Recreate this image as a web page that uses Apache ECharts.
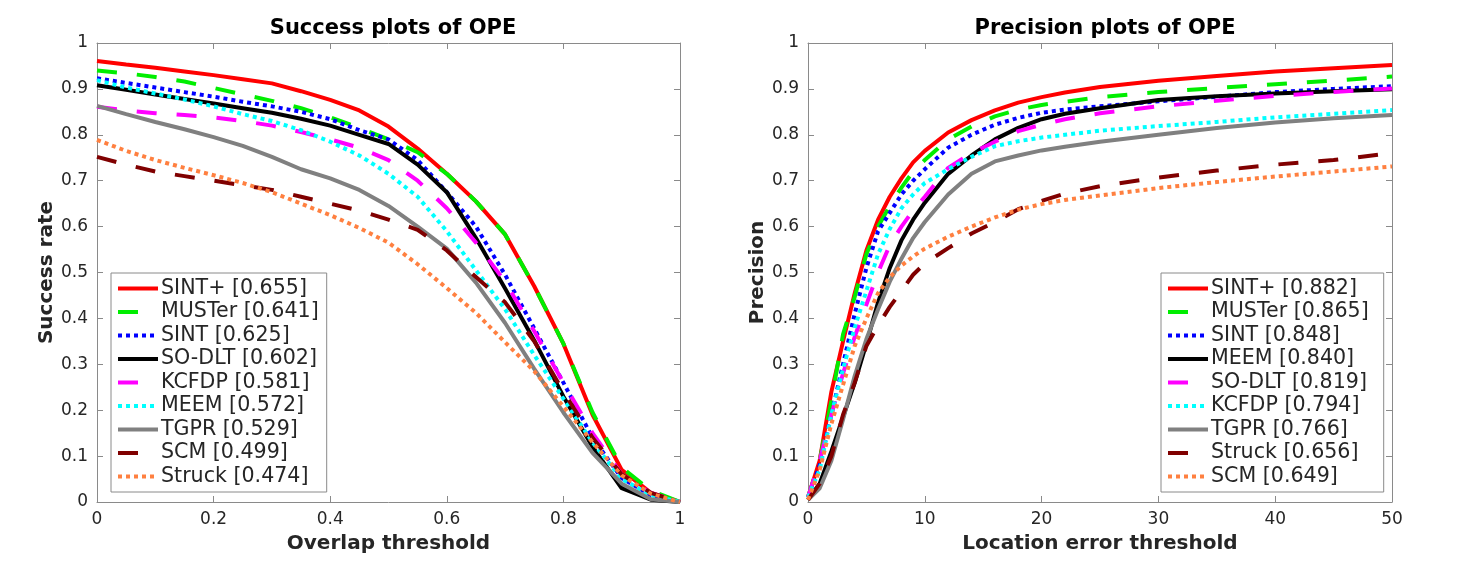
<!DOCTYPE html>
<html>
<head>
<meta charset="utf-8">
<script src="https://cdn.jsdelivr.net/npm/echarts@6/dist/echarts.min.js"></script>
<style>
  html, body { margin: 0; padding: 0; background: #fff; }
  #main { width: 1464px; height: 567px; }
</style>
</head>
<body>
<div id="main"></div>
<script>
// success plot: overlap thresholds
var overlapX = [0, 0.05, 0.1, 0.15, 0.2, 0.25, 0.3, 0.35, 0.4, 0.45, 0.5,
                0.55, 0.6, 0.65, 0.7, 0.75, 0.8, 0.85, 0.9, 0.95, 1];
var successNames = ['SINT+', 'MUSTer', 'SINT', 'SO-DLT', 'KCFDP', 'MEEM', 'TGPR', 'SCM', 'Struck'];
var successScores = ['0.655', '0.641', '0.625', '0.602', '0.581', '0.572', '0.529', '0.499', '0.474'];
var sintPlusS = [0.961, 0.953, 0.946, 0.938, 0.930, 0.921, 0.912, 0.895, 0.876, 0.853, 0.818, 0.770, 0.715, 0.655, 0.583, 0.470, 0.345, 0.190, 0.070, 0.020, 0];
var musterS   = [0.940, 0.934, 0.926, 0.916, 0.902, 0.888, 0.874, 0.858, 0.838, 0.815, 0.790, 0.762, 0.715, 0.655, 0.583, 0.470, 0.345, 0.195, 0.075, 0.025, 0];
var sintS     = [0.923, 0.913, 0.903, 0.893, 0.883, 0.872, 0.862, 0.850, 0.834, 0.810, 0.790, 0.745, 0.675, 0.600, 0.495, 0.378, 0.260, 0.140, 0.052, 0.015, 0];
var sodltS    = [0.908, 0.898, 0.888, 0.878, 0.868, 0.858, 0.848, 0.835, 0.820, 0.800, 0.780, 0.735, 0.675, 0.575, 0.465, 0.352, 0.230, 0.120, 0.030, 0.005, 0];
var kcfdpS    = [0.861, 0.853, 0.847, 0.843, 0.838, 0.830, 0.820, 0.806, 0.790, 0.772, 0.745, 0.700, 0.640, 0.565, 0.480, 0.372, 0.260, 0.150, 0.060, 0.020, 0];
var meemS     = [0.919, 0.903, 0.890, 0.877, 0.862, 0.845, 0.830, 0.810, 0.785, 0.755, 0.715, 0.665, 0.590, 0.505, 0.420, 0.320, 0.225, 0.130, 0.050, 0.015, 0];
var tgprS     = [0.863, 0.845, 0.828, 0.812, 0.795, 0.776, 0.752, 0.725, 0.705, 0.680, 0.645, 0.600, 0.552, 0.478, 0.390, 0.290, 0.195, 0.107, 0.040, 0.006, 0];
var scmS      = [0.752, 0.735, 0.720, 0.710, 0.700, 0.690, 0.680, 0.665, 0.650, 0.635, 0.615, 0.593, 0.548, 0.490, 0.435, 0.350, 0.240, 0.140, 0.060, 0.020, 0];
var struckS   = [0.789, 0.765, 0.745, 0.728, 0.712, 0.695, 0.675, 0.650, 0.625, 0.597, 0.565, 0.518, 0.466, 0.412, 0.348, 0.285, 0.208, 0.130, 0.058, 0.018, 0];

// precision plot: location error thresholds
var errorX = [0, 1, 2, 3, 4, 5, 6, 7, 8, 9, 10, 12, 14, 16, 18, 20, 22, 25, 30, 35, 40, 45, 50];
var precisionNames = ['SINT+', 'MUSTer', 'SINT', 'MEEM', 'SO-DLT', 'KCFDP', 'TGPR', 'Struck', 'SCM'];
var precisionScores = ['0.882', '0.865', '0.848', '0.840', '0.819', '0.794', '0.766', '0.656', '0.649'];
var sintPlusP = [0.01, 0.09, 0.24, 0.35, 0.455, 0.548, 0.615, 0.665, 0.705, 0.74, 0.765, 0.805, 0.832, 0.853, 0.870, 0.882, 0.892, 0.904, 0.918, 0.928, 0.938, 0.945, 0.952];
var musterP   = [0.01, 0.09, 0.22, 0.365, 0.447, 0.54, 0.60, 0.645, 0.685, 0.72, 0.745, 0.790, 0.818, 0.840, 0.855, 0.865, 0.872, 0.882, 0.893, 0.902, 0.910, 0.918, 0.927];
var sintP     = [0.01, 0.08, 0.19, 0.30, 0.41, 0.51, 0.59, 0.63, 0.67, 0.70, 0.725, 0.772, 0.800, 0.822, 0.837, 0.848, 0.855, 0.862, 0.873, 0.883, 0.893, 0.900, 0.906];
var meemP     = [0.005, 0.04, 0.11, 0.185, 0.26, 0.345, 0.435, 0.51, 0.57, 0.615, 0.652, 0.715, 0.755, 0.790, 0.815, 0.834, 0.846, 0.858, 0.876, 0.884, 0.890, 0.895, 0.899];
var sodltP    = [0.01, 0.09, 0.19, 0.28, 0.36, 0.43, 0.50, 0.56, 0.60, 0.635, 0.665, 0.728, 0.760, 0.785, 0.808, 0.822, 0.834, 0.847, 0.862, 0.874, 0.885, 0.893, 0.901];
var kcfdpP    = [0.01, 0.07, 0.19, 0.29, 0.38, 0.46, 0.54, 0.595, 0.64, 0.67, 0.695, 0.725, 0.752, 0.775, 0.786, 0.794, 0.800, 0.809, 0.819, 0.828, 0.838, 0.846, 0.854];
var tgprP     = [0.005, 0.03, 0.09, 0.18, 0.275, 0.355, 0.42, 0.48, 0.53, 0.575, 0.61, 0.670, 0.715, 0.742, 0.755, 0.766, 0.774, 0.785, 0.800, 0.815, 0.827, 0.836, 0.843];
var struckP   = [0.005, 0.04, 0.10, 0.19, 0.26, 0.34, 0.385, 0.425, 0.46, 0.495, 0.52, 0.553, 0.585, 0.610, 0.638, 0.656, 0.672, 0.688, 0.707, 0.722, 0.735, 0.745, 0.760];
var scmP      = [0.005, 0.07, 0.17, 0.255, 0.34, 0.40, 0.455, 0.49, 0.515, 0.535, 0.552, 0.578, 0.600, 0.620, 0.637, 0.649, 0.658, 0.668, 0.684, 0.697, 0.709, 0.720, 0.731];

var successData = [sintPlusS, musterS, sintS, sodltS, kcfdpS, meemS, tgprS, scmS, struckS];
var precisionData = [sintPlusP, musterP, sintP, meemP, sodltP, kcfdpP, tgprP, struckP, scmP];

// line look by rank (same for both plots)
var rankStyles = [
  {color: '#ff0000', type: 'solid'},
  {color: '#00ee00', type: [20, 20]},
  {color: '#0000ff', type: [4, 4]},
  {color: '#000000', type: 'solid'},
  {color: '#ff00ff', type: [20, 20]},
  {color: '#00ffff', type: [4, 4]},
  {color: '#808080', type: 'solid'},
  {color: '#800000', type: [20, 20]},
  {color: '#ff8040', type: [4, 4]}
];

var font = 'DejaVu Sans';
var axisColor = '#8a8a8a';
var textColor = '#262626';

function pairs(xs, ys) {
  return xs.map(function (x, i) { return [x, ys[i]]; });
}

function makeAxis(pos, grid, min, max, interval, showLabel, name, nameGap) {
  return {
    type: 'value', gridIndex: grid, position: pos, min: min, max: max, interval: interval,
    name: name || '', nameLocation: 'middle', nameGap: nameGap || 0,
    nameTextStyle: {fontFamily: font, fontWeight: 'bold', fontSize: 20, color: textColor},
    axisLine: {show: true, onZero: false, lineStyle: {color: axisColor, width: 1}},
    axisTick: {show: true, inside: true, length: 6, lineStyle: {color: axisColor}},
    axisLabel: {show: showLabel, fontFamily: font, fontSize: 17, color: textColor, margin: 9},
    splitLine: {show: false}
  };
}

var series = [];
var leftLegend = [], rightLegend = [];
successNames.forEach(function (n, i) {
  var name = n + ' [' + successScores[i] + ']';
  leftLegend.push(name);
  series.push({
    name: name, type: 'line', xAxisIndex: 0, yAxisIndex: 0,
    data: pairs(overlapX, successData[i]), showSymbol: false, symbol: 'none',
    lineStyle: {color: rankStyles[i].color, width: 4, type: rankStyles[i].type, cap: 'butt'},
    itemStyle: {color: rankStyles[i].color}
  });
});
precisionNames.forEach(function (n, i) {
  var name = n + ' [' + precisionScores[i] + ']';
  rightLegend.push(name);
  series.push({
    name: name, type: 'line', xAxisIndex: 2, yAxisIndex: 2,
    data: pairs(errorX, precisionData[i]), showSymbol: false, symbol: 'none',
    lineStyle: {color: rankStyles[i].color, width: 4, type: rankStyles[i].type, cap: 'butt'},
    itemStyle: {color: rankStyles[i].color}
  });
});

function legendBox(names, left, padRight) {
  return {
    data: names, orient: 'vertical', left: left, top: 273,
    itemWidth: 40, itemHeight: 14, itemGap: 2.5,
    padding: [5, padRight, 5, 5],
    borderColor: '#8a8a8a', borderWidth: 1, backgroundColor: '#fff',
    selectedMode: false,
    itemStyle: {opacity: 0, borderWidth: 0},
    lineStyle: {width: 4},
    textStyle: {fontFamily: font, fontSize: 20.6, color: textColor, padding: [0, 0, 0, -2]}
  };
}

var myChart = echarts.init(document.getElementById('main'), null, {renderer: 'canvas'});
var option = {
  animation: false,
  backgroundColor: '#fff',
  title: [
    {text: 'Success plots of OPE', left: 388, top: 13, textAlign: 'center',
     textStyle: {fontFamily: font, fontWeight: 'bold', fontSize: 21, color: '#000'}},
    {text: 'Precision plots of OPE', left: 1100, top: 13, textAlign: 'center',
     textStyle: {fontFamily: font, fontWeight: 'bold', fontSize: 21, color: '#000'}}
  ],
  grid: [
    {left: 97, top: 43, width: 583, height: 459},
    {left: 808, top: 43, width: 584, height: 459}
  ],
  xAxis: [
    makeAxis('bottom', 0, 0, 1, 0.2, true, 'Overlap threshold', 32),
    makeAxis('top', 0, 0, 1, 0.2, false),
    makeAxis('bottom', 1, 0, 50, 10, true, 'Location error threshold', 32),
    makeAxis('top', 1, 0, 50, 10, false)
  ],
  yAxis: [
    makeAxis('left', 0, 0, 1, 0.1, true, 'Success rate', 40),
    makeAxis('right', 0, 0, 1, 0.1, false),
    makeAxis('left', 1, 0, 1, 0.1, true, 'Precision', 39),
    makeAxis('right', 1, 0, 1, 0.1, false)
  ],
  legend: [legendBox(leftLegend, 111, 8), legendBox(rightLegend, 1161, 15)],
  series: series
};
myChart.setOption(option);
</script>
</body>
</html>
